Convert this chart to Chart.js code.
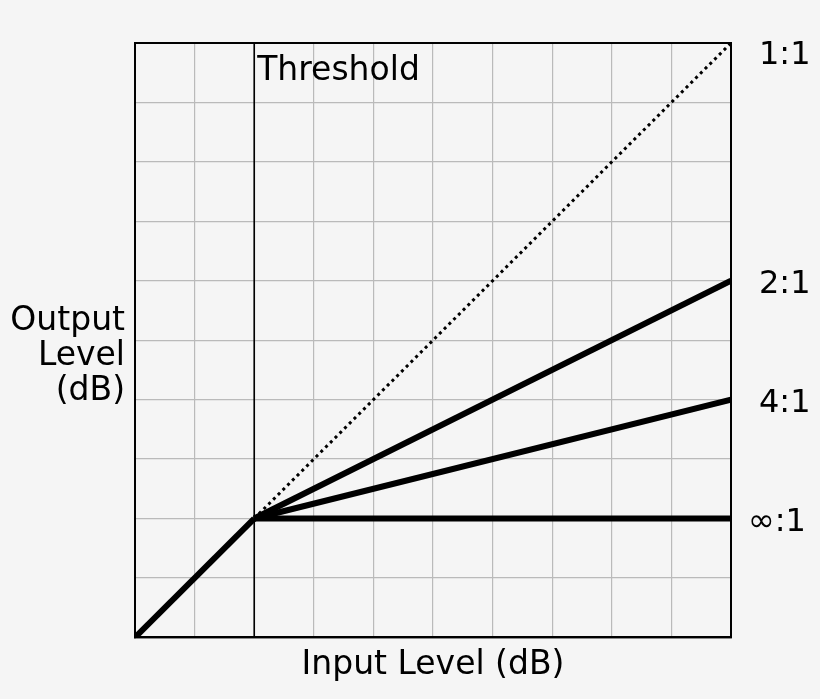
<!DOCTYPE html>
<html>
<head>
<meta charset="utf-8">
<script src="https://cdn.jsdelivr.net/npm/chart.js@4"></script>
<style>
  html, body { margin: 0; padding: 0; background: #f5f5f5; }
  #wrap { width: 820px; height: 699px; }
</style>
</head>
<body>
<div id="wrap"><canvas id="myChart"></canvas></div>
<script>
// compressor transfer curves, input vs output level (grid units)
const threshold = 2;
const inputMax = 10;
const belowThreshold = [{x: 0, y: 0}, {x: 2, y: 2}];
const ratio1 = [{x: 2, y: 2}, {x: 10, y: 10}];
const ratio2 = [{x: 2, y: 2}, {x: 10, y: 6}];
const ratio4 = [{x: 2, y: 2}, {x: 10, y: 4}];
const ratioInf = [{x: 2, y: 2}, {x: 10, y: 2}];
const ratioLabels = ['1:1', '2:1', '4:1', '∞:1'];
const ratioEnds = [10, 6, 4, 2];

const FONT = 'DejaVu Sans, sans-serif';

const labelPlugin = {
    id: 'labels',
    afterDraw(chart) {
        const ctx = chart.ctx;
        const xs = chart.scales.x;
        const ys = chart.scales.y;
        ctx.save();
        ctx.fillStyle = '#000';
        ctx.font = '32px ' + FONT;
        ctx.textBaseline = 'alphabetic';
        ctx.textAlign = 'left';
        ratioLabels.forEach((lab, i) => {
            const py = Math.max(ys.getPixelForValue(ratioEnds[i]) + 12, 64);
            const px = lab.startsWith('∞') ? 748 : 759;
            ctx.fillText(lab, px, py);
        });
        // threshold caption
        ctx.font = '33px ' + FONT;
        ctx.fillText('Threshold', xs.getPixelForValue(threshold) + 3, 80);
        // y axis caption
        ctx.textAlign = 'right';
        ['Output', 'Level', '(dB)'].forEach((t, i) => {
            ctx.fillText(t, 125, 330 + i * 35);
        });
        ctx.restore();
    }
};

function line(data, width, dash) {
    return {
        data: data,
        showLine: true,
        borderColor: '#000',
        borderWidth: width,
        borderDash: dash || [],
        pointRadius: 0,
        fill: false,
        tension: 0,
        borderCapStyle: 'butt',
        borderJoinStyle: 'round'
    };
}

new Chart(document.getElementById('myChart'), {
    type: 'scatter',
    data: {
        datasets: [
            line([{x: threshold, y: 0}, {x: threshold, y: inputMax}], 1.6),
            line(ratio1, 3, [3, 3.7]),
            line(ratio2, 6),
            line(ratio4, 6),
            line(ratioInf, 6),
            line(belowThreshold, 6)
        ]
    },
    options: {
        responsive: true,
        maintainAspectRatio: false,
        animation: false,
        layout: { padding: { left: 135, top: 43, right: 89, bottom: 0 } },
        plugins: { legend: { display: false }, tooltip: { enabled: false } },
        scales: {
            x: {
                type: 'linear', min: 0, max: inputMax,
                ticks: { display: false, stepSize: 1 },
                grid: { color: '#bababa', lineWidth: 1.2, drawTicks: false },
                border: { color: '#000', width: 2 },
                title: {
                    display: true, text: 'Input Level (dB)', color: '#000',
                    font: { family: FONT, size: 33 }, padding: { top: 8, bottom: 14 }
                }
            },
            y: {
                type: 'linear', min: 0, max: inputMax,
                ticks: { display: false, stepSize: 1 },
                grid: { color: '#bababa', lineWidth: 1.2, drawTicks: false },
                border: { color: '#000', width: 2 }
            }
        }
    },
    plugins: [labelPlugin, {
        id: 'frame',
        afterDraw(chart) {
            const a = chart.chartArea;
            const ctx = chart.ctx;
            ctx.save();
            ctx.strokeStyle = '#000';
            ctx.lineWidth = 2;
            ctx.strokeRect(a.left, a.top, a.right - a.left, a.bottom - a.top);
            ctx.restore();
        }
    }]
});
</script>
</body>
</html>
